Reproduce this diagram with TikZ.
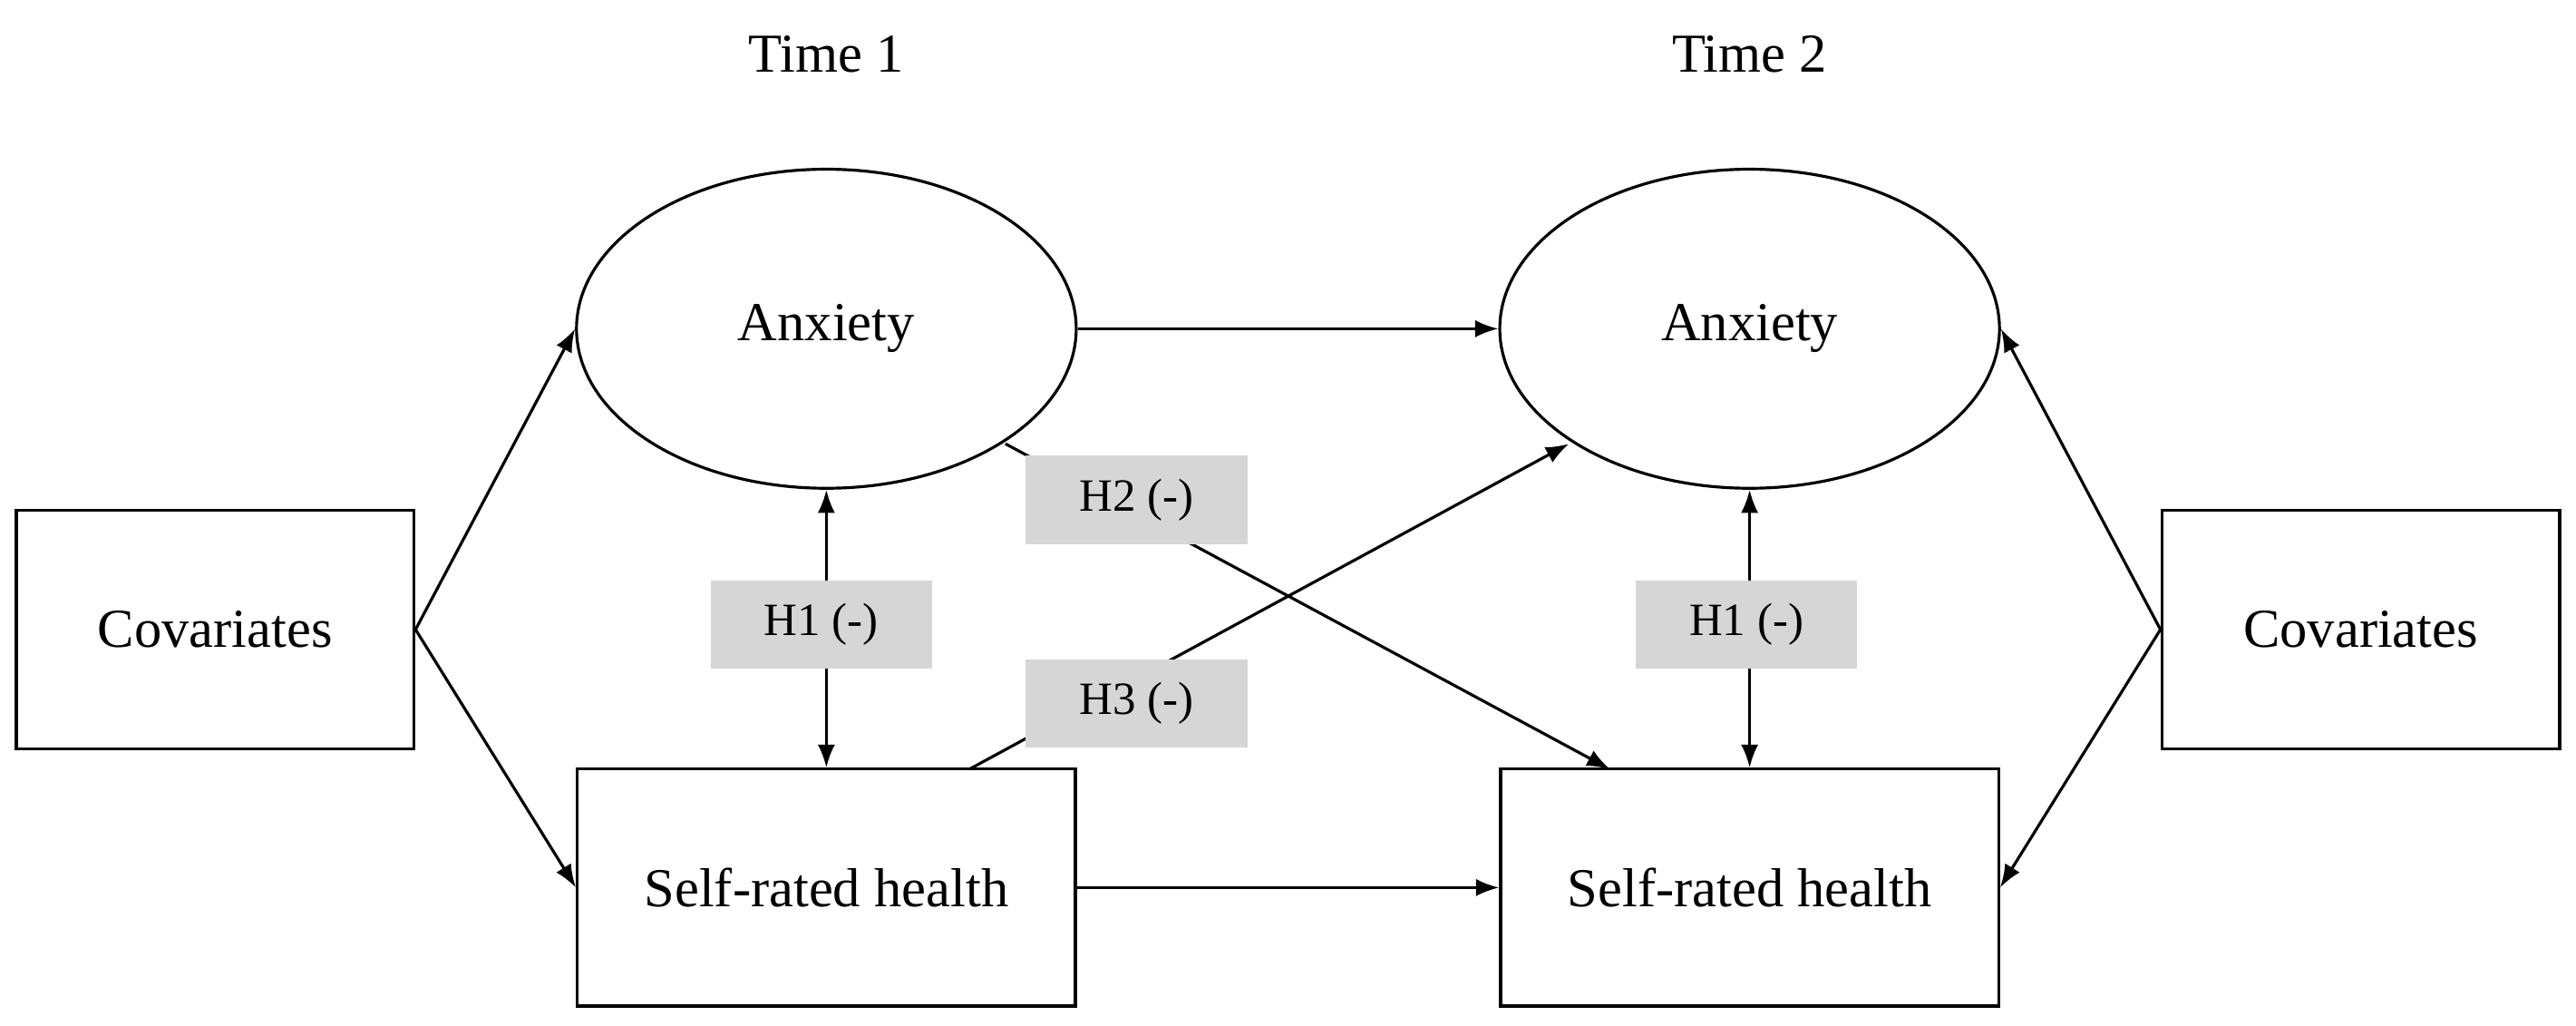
\documentclass[tikz,border=0pt]{standalone}
\usepackage{fontspec}
\setmainfont{Liberation Serif}
\usetikzlibrary{shapes.geometric,arrows.meta}
\begin{document}
\begin{tikzpicture}[x=0.01cm,y=-0.01cm,
  box/.style={draw,line width=0.5pt,minimum width=3.03cm,minimum height=1.44cm,inner sep=0,font=\fontsize{9.5}{11}\selectfont},
  ell/.style={draw,ellipse,line width=0.5pt,minimum width=3.04cm,minimum height=1.94cm,inner sep=0,font=\fontsize{9.5}{11}\selectfont},
  lab/.style={fill=black!16,minimum width=1.35cm,minimum height=0.54cm,inner sep=0,font=\fontsize{8}{9}\selectfont},
  arr/.style={-{Latex[length=4pt,width=3pt]},line width=0.5pt},
  darr/.style={{Latex[length=4pt,width=3pt]}-{Latex[length=4pt,width=3pt]},line width=0.5pt}]
\useasboundingbox (0,0) rectangle (1568,624);
\node[font=\fontsize{9.5}{11}\selectfont] (t1) at (503,33) {Time 1};
\node[font=\fontsize{9.5}{11}\selectfont] (t2) at (1065,33) {Time 2};
\node[ell] (a1) at (503,200) {Anxiety};
\node[ell] (a2) at (1065,200) {Anxiety};
\node[box,minimum width=2.42cm,minimum height=1.45cm] (c1) at (131,383) {Covariates};
\node[box,minimum width=2.42cm,minimum height=1.45cm] (c2) at (1437,383) {Covariates};
\node[box] (s1) at (503,540) {Self-rated health};
\node[box] (s2) at (1065,540) {Self-rated health};
\draw[arr] (c1.east) -- (a1.west);
\draw[arr] (c1.east) -- (s1.west);
\draw[arr] (c2.west) -- (a2.east);
\draw[arr] (c2.west) -- (s2.east);
\draw[arr] (a1.east) -- (a2.west);
\draw[arr] (s1.east) -- (s2.west);
\draw[darr] (a1.south) -- (s1.north);
\draw[darr] (a2.south) -- (s2.north);
\coordinate (h2s) at (612,270);
\coordinate (h2e) at (980,468);
\coordinate (h3s) at (590,468);
\coordinate (h3e) at (955,270);
\draw[arr] (h2s) -- (h2e);
\draw[arr] (h3s) -- (h3e);
\node[lab] (l1) at (500,380) {H1 (-)};
\node[lab] (l2) at (1063,380) {H1 (-)};
\node[lab] (l3) at (692,304) {H2 (-)};
\node[lab] (l4) at (692,428) {H3 (-)};
\end{tikzpicture}
\end{document}
